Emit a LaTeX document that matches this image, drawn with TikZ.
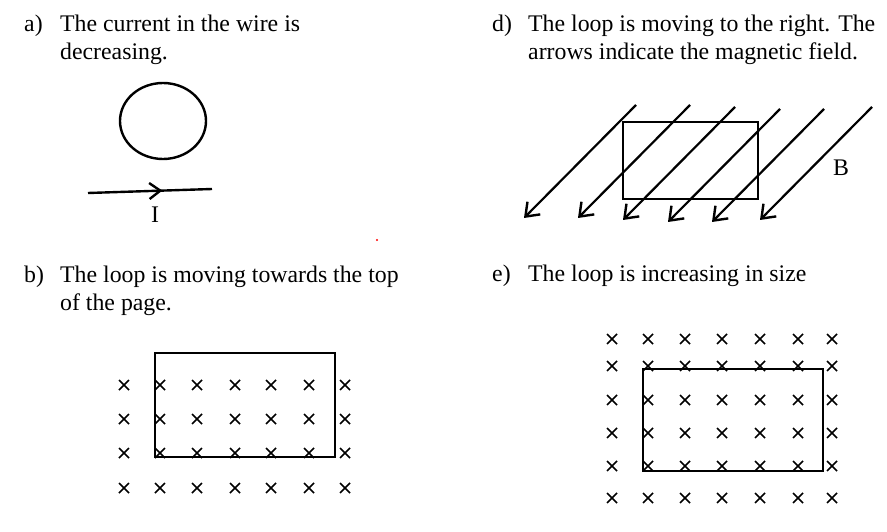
\documentclass[tikz,border=0pt]{standalone}
\usepackage{fontspec}
\setmainfont{Liberation Serif}
\usetikzlibrary{arrows.meta,decorations.markings}
\begin{document}
\begin{tikzpicture}[x=1pt,y=-1pt,
  lbl/.style={anchor=base west,font=\fontsize{23.8}{28}\selectfont,inner sep=0pt},
  wire/.style={line width=2.4pt},
  fld/.style={line width=2.2pt,-{Straight Barb[length=12pt,width=18pt,line width=2.4pt]}},
  xm/.style={line width=1.6pt}]
\useasboundingbox (0,0) rectangle (887,532);
\node[lbl] (ta0) at (24,32) {a)};
\node[lbl] (ta1) at (60,32) {The current in the wire is};
\node[lbl] (ta2) at (60,60) {decreasing.};
\node[lbl] (td0) at (492,32) {d)};
\node[lbl] (td1) at (528,32) {The loop is moving to the right. The};
\node[lbl] (td2) at (528,60) {arrows indicate the magnetic field.};
\node[lbl] (tb0) at (24,282) {b)};
\node[lbl] (tb1) at (60,282) {The loop is moving towards the top};
\node[lbl] (tb2) at (60,310) {of the page.};
\node[lbl] (te0) at (492,281) {e)};
\node[lbl] (te1) at (528,281) {The loop is increasing in size};
% a
\draw[wire] (163,121) ellipse [x radius=43,y radius=38];
\coordinate (w1) at (88,193); \coordinate (w2) at (212,189);
\draw[wire,postaction={decorate},decoration={markings,mark=at position 0.6 with {\arrow{Straight Barb[length=11pt,width=16pt,line width=2.4pt]}}}] (w1) -- (w2);
\node[lbl,anchor=center] (I) at (155,215) {I};
% d
\draw[wire] (623,122) rectangle (758,199);
\foreach \ex/\ey in {524/218,578/218,623/220,668/222,712/222,760/220}
  \draw[fld] (\ex+112,\ey-113) -- (\ex,\ey);
\node[lbl,anchor=center] (B) at (841,168) {B};
\fill[red] (377,240) circle (1.2);
% b
\draw[wire] (155,353) rectangle (335,457);
\foreach \y in {385,419,453,488}
  \foreach \x in {124,160,197,235,271,309,345}
    \draw[xm] (\x-5,\y-5) -- (\x+5,\y+5) (\x-5,\y+5) -- (\x+5,\y-5);
% e
\draw[wire] (643,369) rectangle (823,471);
\foreach \y in {339,366,400,433,466,498}
  \foreach \x in {612,648,685,722,760,798,832}
    \draw[xm] (\x-5,\y-5) -- (\x+5,\y+5) (\x-5,\y+5) -- (\x+5,\y-5);
\end{tikzpicture}
\end{document}
